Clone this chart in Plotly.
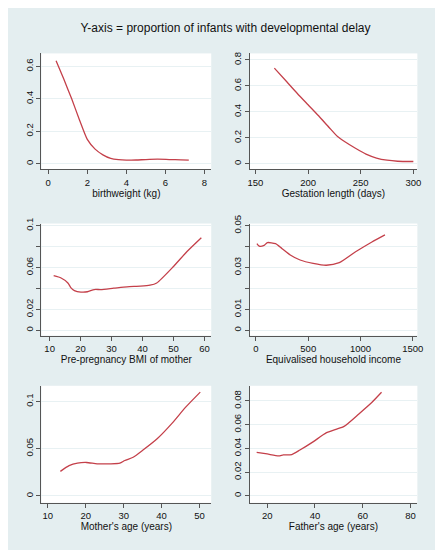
import plotly.graph_objects as go
from plotly.subplots import make_subplots

# Panel data (x, proportion with developmental delay)
birthweight = [0.4, 0.8, 1.2, 1.6, 2.0, 2.4, 2.8, 3.2, 3.6, 4.0, 4.5, 5.0, 5.6, 6.2, 6.8, 7.2]
birthweight_y = [0.635, 0.52, 0.40, 0.27, 0.15, 0.09, 0.055, 0.033, 0.025, 0.022, 0.023, 0.026, 0.028, 0.026, 0.024, 0.022]

gestation = [168, 180, 190, 200, 210, 220, 228, 235, 245, 255, 265, 275, 285, 300]
gestation_y = [0.737, 0.63, 0.54, 0.455, 0.37, 0.28, 0.21, 0.17, 0.12, 0.075, 0.045, 0.028, 0.02, 0.018]

bmi = [11.3, 13.7, 15.9, 16.9, 18.0, 20.1, 22.2, 24.4, 26.5, 30.7, 35.0, 39.3, 42.4, 44.6, 50.0, 54.3, 59.0]
bmi_y = [0.0522, 0.050, 0.0453, 0.0406, 0.038, 0.0366, 0.0369, 0.039, 0.039, 0.0403, 0.0416, 0.0422, 0.0431, 0.0453, 0.061, 0.075, 0.0884]

income = [9, 31, 78, 109, 187, 250, 328, 422, 547, 672, 797, 953, 1109, 1234]
income_y = [0.0414, 0.0402, 0.0406, 0.0419, 0.0414, 0.039, 0.036, 0.0336, 0.032, 0.0311, 0.0323, 0.0375, 0.0422, 0.0456]

mother_age = [13.3, 15.6, 17.8, 20.2, 23.0, 26.4, 29.0, 30.3, 32.5, 35.1, 38.9, 42.8, 46.3, 50.2]
mother_age_y = [0.026, 0.032, 0.0347, 0.0354, 0.034, 0.034, 0.0347, 0.0375, 0.041, 0.0486, 0.0608, 0.0771, 0.0938, 0.110]

father_age = [15.6, 20.0, 24.8, 26.8, 30.3, 33.7, 39.2, 44.7, 48.8, 52.2, 58.4, 63.8, 67.9]
father_age_y = [0.0367, 0.0353, 0.0337, 0.0345, 0.0348, 0.0386, 0.0455, 0.053, 0.056, 0.0585, 0.069, 0.0786, 0.0872]

panels = [
    dict(x=birthweight, y=birthweight_y, title='birthweight (kg)',
         xticks=[0, 2, 4, 6, 8], xrange=[-0.35, 8.35],
         yticks=[0, 0.2, 0.4, 0.6], ytext=['0', '0.2', '0.4', '0.6'], yrange=[-0.035, 0.68]),
    dict(x=gestation, y=gestation_y, title='Gestation length (days)',
         xticks=[150, 200, 250, 300], xrange=[144.4, 303.8],
         yticks=[0, 0.2, 0.4, 0.6, 0.8], ytext=['0', '0.2', '0.4', '0.6', '0.8'], yrange=[-0.043, 0.85]),
    dict(x=bmi, y=bmi_y, title='Pre-pregnancy BMI of mother',
         xticks=[10, 20, 30, 40, 50, 60], xrange=[7.35, 62.2],
         yticks=[0, 0.02, 0.04, 0.06, 0.08, 0.1], ytext=['0', '0.02', '', '0.06', '', '0.1'], yrange=[-0.005, 0.102]),
    dict(x=income, y=income_y, title='Equivalised household income',
         xticks=[0, 500, 1000, 1500], xrange=[-62, 1544],
         yticks=[0, 0.01, 0.02, 0.03, 0.04, 0.05], ytext=['0', '0.01', '', '0.03', '', '0.05'], yrange=[-0.0025, 0.051]),
    dict(x=mother_age, y=mother_age_y, title="Mother's age (years)",
         xticks=[10, 20, 30, 40, 50], xrange=[8.3, 53.1],
         yticks=[0, 0.05, 0.1], ytext=['0', '0.05', '0.1'], yrange=[-0.0073, 0.1167]),
    dict(x=father_age, y=father_age_y, title="Father's age (years)",
         xticks=[20, 40, 60, 80], xrange=[12.6, 82.9],
         yticks=[0, 0.02, 0.04, 0.06, 0.08], ytext=['0', '0.02', '0.04', '0.06', '0.08'], yrange=[-0.0058, 0.0927]),
]

fig = make_subplots(rows=3, cols=2)

# the page body adds an 8px margin, so the figure is 8px smaller than the window
col_domains = [[0.0736, 0.4713], [0.5609, 0.954]]
row_domains = [[0.714, 0.9317], [0.4022, 0.6125], [0.0886, 0.3081]]

font = 'Liberation Sans, Arial, sans-serif'
for i, p in enumerate(panels):
    row, col = i // 2 + 1, i % 2 + 1
    fig.add_trace(go.Scatter(
        x=p['x'], y=p['y'], mode='lines',
        line=dict(color='#c4404a', width=1.3, shape='spline', smoothing=0.6),
        showlegend=False, hoverinfo='skip'
    ), row=row, col=col)
    fig.update_xaxes(
        domain=col_domains[col - 1], range=p['xrange'],
        tickvals=p['xticks'], ticks='outside', ticklen=4, tickcolor='#555',
        showline=True, linecolor='#555', linewidth=1, showgrid=False, zeroline=False,
        tickfont=dict(size=9.5, color='#111', family=font),
        title=dict(text=p['title'], standoff=1, font=dict(size=10, color='#111', family=font)),
        row=row, col=col)
    fig.update_yaxes(
        domain=row_domains[row - 1], range=p['yrange'],
        tickvals=p['yticks'], ticktext=p['ytext'], tickangle=-90,
        ticks='outside', ticklen=4, tickcolor='#555',
        showline=True, linecolor='#555', linewidth=1,
        showgrid=True, gridcolor='#e8f1f3', gridwidth=1, zeroline=False,
        tickfont=dict(size=9.5, color='#111', family=font),
        row=row, col=col)

fig.update_layout(
    width=435, height=542,
    margin=dict(l=0, r=0, t=0, b=0),
    paper_bgcolor='#e4eef0', plot_bgcolor='white',
    title=dict(text='Y-axis = proportion of infants with developmental delay',
               x=0.5, xanchor='center', y=0.9631, yanchor='middle',
               font=dict(size=12, color='#111', family=font)),
)

fig.write_html("out.html")
